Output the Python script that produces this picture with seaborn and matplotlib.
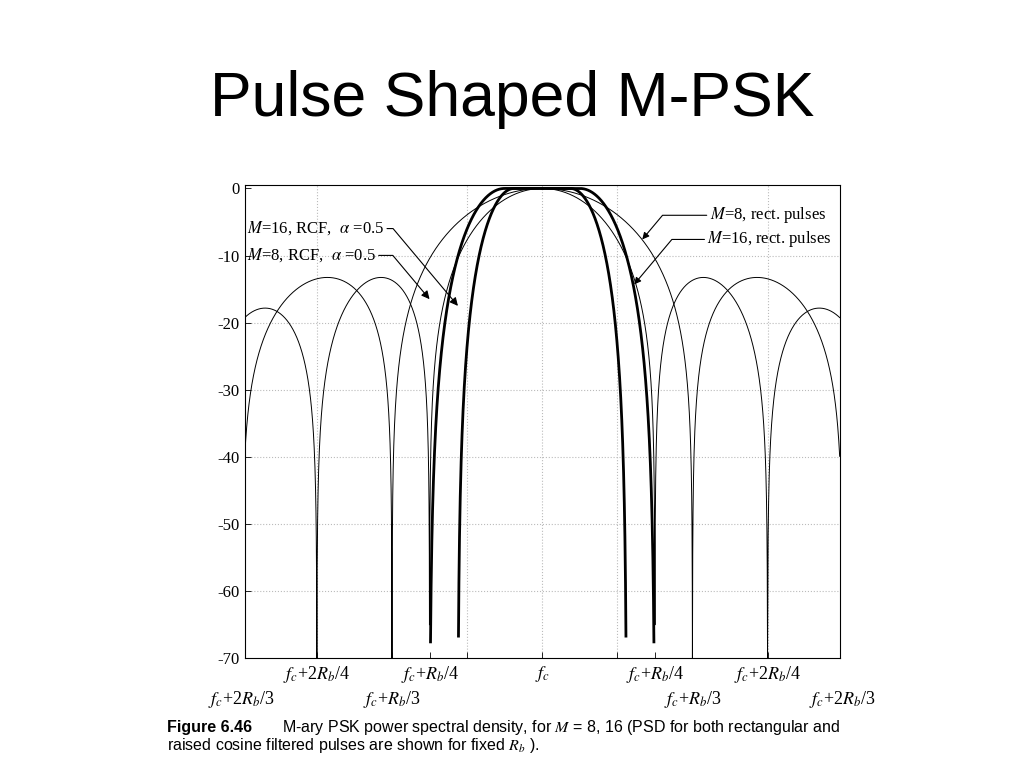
import numpy as np
import pandas as pd
import matplotlib
matplotlib.use("Agg")
import matplotlib.pyplot as plt
import seaborn as sns

plt.rcParams["mathtext.fontset"] = "stix"

# Parameters
M_values = [8, 16]
alpha = 0.5
Rb = 1.0
y_ticks = [0, -10, -20, -30, -40, -50, -60, -70]
floor_db = -70

f = np.linspace(-0.66, 0.66, 4001)

def rect_psd(M):
    Rs = Rb / np.log2(M)
    p = np.sinc(f / Rs) ** 2
    return np.clip(10 * np.log10(np.maximum(p, 1e-12)), floor_db, 0)

def rc_psd(M):
    Rs = Rb / np.log2(M)
    f1 = (1 - alpha) * Rs / 2
    f2 = (1 + alpha) * Rs / 2
    a = np.abs(f)
    h = np.where(a <= f1, 1.0,
                 np.where(a <= f2, 0.5 * (1 + np.cos(np.pi / (alpha * Rs) * (a - f1))), 0.0))
    p = h ** 2
    return 10 * np.log10(np.maximum(p, 1e-12))

fig = plt.figure(figsize=(10.24, 7.68), dpi=100)
fig.text(0.5, 0.87, "Pulse Shaped M-PSK", ha="center", va="center", fontsize=45,
         family="Liberation Sans")
ax = fig.add_axes([0.239, 0.143, 0.581, 0.616])

for M in M_values:
    df = pd.DataFrame({"f": f, "psd": rect_psd(M)})
    sns.lineplot(data=df, x="f", y="psd", ax=ax, color="black", lw=0.7)
for M in M_values:
    p = rc_psd(M)
    m = p >= floor_db
    df = pd.DataFrame({"f": f[m], "psd": p[m]})
    sns.lineplot(data=df, x="f", y="psd", ax=ax, color="black", lw=2.0,
                 units=np.sign(df["f"]).values, estimator=None)

ax.set_xlim(-0.66, 0.66)
ax.set_ylim(-70, 0.5)
ax.set_yticks(y_ticks)
ax.set_yticklabels([str(v) for v in y_ticks], family="Liberation Serif", fontsize=12)
xt = [-0.5, -1/3, -0.25, -1/6, 0, 1/6, 0.25, 1/3, 0.5]
ax.set_xticks(xt)
ax.set_xticklabels([""] * len(xt))
ax.tick_params(direction="in", length=4, width=0.6)
for v in [-1/6, 0, 1/6, 0.5, -0.5]:
    ax.axvline(v, color="#bbbbbb", ls=":", lw=0.8, zorder=0)
for v in y_ticks[1:-1]:
    ax.axhline(v, color="#bbbbbb", ls=":", lw=0.8, zorder=0)
ax.set_xlabel(""); ax.set_ylabel("")
for s in ax.spines.values():
    s.set_linewidth(0.8)

serif = dict(family="Liberation Serif", fontsize=13)
top_labels = [(-0.5, r"$f_c$+2$R_b$/4"), (-0.25, r"$f_c$+$R_b$/4"), (0, r"$f_c$"),
              (0.25, r"$f_c$+$R_b$/4"), (0.5, r"$f_c$+2$R_b$/4")]
bot_labels = [(-2/3, r"$f_c$+2$R_b$/3"), (-1/3, r"$f_c$+$R_b$/3"),
              (1/3, r"$f_c$+$R_b$/3"), (2/3, r"$f_c$+2$R_b$/3")]
for x, t in top_labels:
    ax.text(x, -70.8, t, ha="center", va="top", **serif)
for x, t in bot_labels:
    ax.text(x, -74.6, t, ha="center", va="top", **serif)

lab = dict(fontsize=12, family="Liberation Serif")
ax.annotate(r"$M$=16, RCF,  $\alpha$ =0.5", xy=(-0.187, -17.5), xytext=(-0.655, -7.3),
            va="bottom", **lab,
            arrowprops=dict(arrowstyle="-|>", color="black", lw=0.8, shrinkA=0, shrinkB=0,
                            connectionstyle="angle,angleA=0,angleB=-50,rad=0"))
ax.annotate(r"$M$=8, RCF,  $\alpha$ =0.5", xy=(-0.25, -16.5), xytext=(-0.655, -11.3),
            va="bottom", **lab,
            arrowprops=dict(arrowstyle="-|>", color="black", lw=0.8, shrinkA=0, shrinkB=0,
                            connectionstyle="angle,angleA=0,angleB=-50,rad=0"))
ax.text(0.372, -4.0, r"$M$=8, rect. pulses", va="center", **lab)
ax.text(0.365, -7.6, r"$M$=16, rect. pulses", va="center", **lab)
ax.annotate("", xy=(0.222, -7.6), xytext=(0.365, -4.0),
            arrowprops=dict(arrowstyle="-|>", color="black", lw=0.8, shrinkA=0, shrinkB=0,
                            connectionstyle="angle,angleA=0,angleB=50,rad=0"))
ax.annotate("", xy=(0.204, -14.3), xytext=(0.36, -7.6),
            arrowprops=dict(arrowstyle="-|>", color="black", lw=0.8, shrinkA=0, shrinkB=0,
                            connectionstyle="angle,angleA=0,angleB=50,rad=0"))

fig.text(0.163, 0.053, "Figure 6.46", fontsize=11.5, family="Liberation Sans",
         weight="bold", va="center")
fig.text(0.275, 0.053, r"M-ary PSK power spectral density, for $M$ = 8, 16 (PSD for both rectangular and",
         fontsize=11.5, family="Liberation Sans", va="center")
fig.text(0.163, 0.029, r"raised cosine filtered pulses are shown for fixed $R_b$ ).",
         fontsize=11.5, family="Liberation Sans", va="center")
fig.savefig("out.png", dpi=100)
